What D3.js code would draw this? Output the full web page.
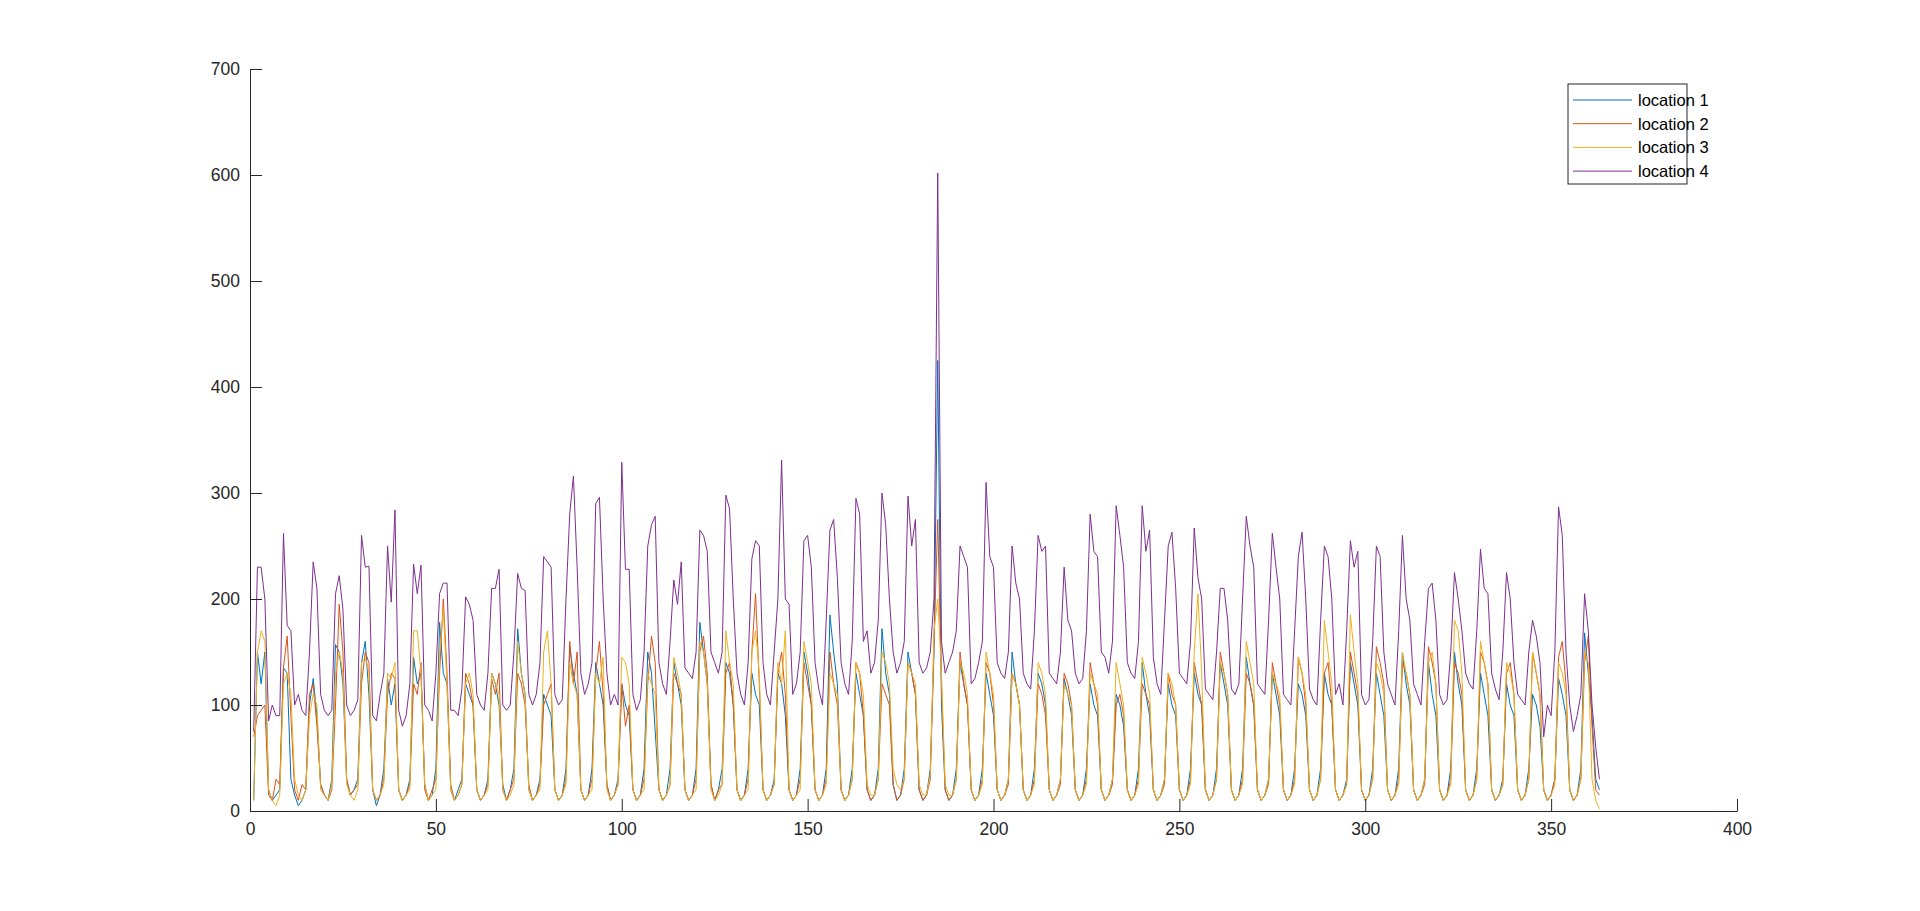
<!DOCTYPE html>
<html><head><meta charset="utf-8">
<script src="https://cdn.jsdelivr.net/npm/d3@7"></script>
<style>body{margin:0;background:#fff}svg{display:block}</style>
</head><body>
<script>
const seriesNames = ["location 1","location 2","location 3","location 4"];
const xTicks = [0,50,100,150,200,250,300,350,400];
const yTicks = [0,100,200,300,400,500,600,700];
const loc1 = [
10,150,120,150,20,10,15, 20,135,130,30,15,5,10, 20,100,125,90,25,15,10, 30,157,150,120,30,15,20,
30,140,160,110,20,5,15, 40,125,100,120,20,10,15, 30,145,120,130,25,10,15, 40,178,130,120,20,10,20,
30,120,110,100,20,10,15, 30,130,120,100,25,10,20, 40,172,130,110,20,10,15, 30,110,100,90,20,10,15,
40,155,130,110,20,10,15, 40,140,120,100,25,10,15, 30,120,100,90,20,10,15, 40,150,130,75,20,10,15,
40,140,120,100,20,10,15, 40,178,150,120,25,10,20, 40,140,130,100,20,10,15, 40,130,110,100,20,10,15,
30,130,120,90,20,10,15, 40,150,130,100,20,10,15, 40,185,150,120,20,10,15, 40,130,110,90,20,10,15,
40,172,130,110,25,10,15, 40,150,130,110,20,10,15, 40,150,425,100,20,10,15, 40,140,120,100,20,10,15,
40,130,110,90,20,10,15, 30,150,120,100,20,10,15, 40,130,120,100,20,10,15, 30,125,110,90,20,10,15,
40,120,100,90,20,10,15, 30,110,100,80,20,10,15, 40,140,110,90,20,10,15, 30,120,100,90,20,10,15,
40,130,110,100,20,10,15, 40,140,120,100,20,10,15, 40,145,120,100,20,10,15, 30,130,110,90,20,10,15,
40,120,110,90,20,10,15, 40,130,110,100,20,10,15, 30,140,120,100,20,10,15, 40,130,110,90,20,10,15,
40,150,120,100,20,10,15, 30,140,110,90,20,10,15, 40,150,120,100,20,10,15, 40,130,110,90,20,10,15,
30,120,100,90,20,10,15, 40,110,100,80,20,10,15, 30,125,110,90,20,10,15, 40,168,130,90,30,20];
const loc2 = [
70,90,95,100,15,10,30, 25,135,165,90,20,10,25, 20,110,120,80,25,15,10, 20,100,195,150,30,15,20,
25,120,150,140,20,10,15, 30,110,130,125,20,10,15, 25,120,110,140,20,10,20, 30,130,200,130,25,10,15,
25,130,120,100,20,10,15, 25,125,110,130,20,10,20, 30,130,120,100,25,10,15, 25,100,110,120,20,10,15,
30,160,120,150,20,10,15, 30,130,160,110,25,10,15, 25,120,80,100,20,10,15, 30,120,165,140,20,10,15,
25,130,120,110,20,10,15, 30,150,165,130,25,10,20, 25,130,140,100,20,10,15, 30,150,205,120,20,10,15,
25,130,150,110,20,10,15, 30,140,120,100,20,10,15, 30,150,120,100,20,10,15, 30,140,130,90,20,10,15,
30,120,110,100,25,10,15, 30,140,130,110,20,10,15, 30,160,275,120,20,10,15, 30,150,120,100,20,10,15,
30,140,130,100,20,10,15, 25,130,120,100,20,10,15, 30,120,110,90,20,10,15, 25,130,120,100,20,10,15,
30,140,120,100,20,10,15, 25,100,110,90,20,10,15, 30,120,110,100,20,10,15, 25,130,110,100,20,10,15,
30,140,120,100,20,10,15, 30,150,130,110,20,10,15, 30,130,120,100,20,10,15, 25,140,120,100,20,10,15,
30,145,130,100,20,10,15, 30,130,140,100,20,10,15, 25,150,130,110,20,10,15, 30,155,140,120,20,10,15,
30,140,130,110,20,10,15, 25,155,140,120,20,10,15, 30,140,130,110,20,10,15, 30,150,140,120,20,10,15,
25,130,140,110,20,10,15, 30,150,130,110,20,10,15, 30,145,160,120,20,10,15, 30,140,165,80,20,15];
const loc3 = [
10,150,170,160,20,10,5, 15,120,130,110,30,15,10, 20,90,110,100,20,15,10, 25,130,150,130,25,15,10,
20,140,145,130,20,10,15, 25,130,125,140,20,10,15, 20,170,170,130,25,10,15, 20,150,190,120,20,10,15,
25,120,130,110,20,10,15, 20,130,120,110,20,10,15, 25,160,130,110,20,10,15, 20,150,170,120,20,10,15,
25,140,120,110,20,10,15, 20,130,120,145,20,10,15, 25,145,140,120,20,10,15, 20,130,120,110,20,10,15,
25,145,130,110,20,10,15, 20,160,150,120,20,10,15, 25,170,140,120,20,10,15, 20,150,170,130,20,10,15,
25,140,120,170,20,10,15, 20,160,140,120,20,10,15, 25,130,120,110,20,10,15, 30,140,130,110,25,15,15,
30,150,140,120,40,25,20, 30,140,130,120,25,15,15, 35,170,200,130,25,15,15, 30,140,130,110,20,10,15,
25,150,130,110,20,10,15, 30,130,120,100,20,10,15, 25,140,130,110,20,10,15, 30,120,110,100,20,10,15,
25,130,120,110,20,10,15, 30,140,120,100,20,10,15, 25,145,130,110,20,10,15, 30,130,120,100,20,10,15,
25,150,205,130,20,10,15, 30,140,130,110,20,10,15, 25,160,140,120,20,10,15, 30,130,120,110,20,10,15,
25,145,130,110,20,10,15, 30,180,150,120,20,10,15, 25,185,150,120,20,10,15, 30,140,130,110,20,10,15,
25,150,130,110,20,10,15, 30,140,150,120,20,10,15, 25,180,170,130,20,10,15, 30,160,140,120,20,10,15,
25,140,130,110,20,10,15, 30,150,130,110,20,10,15, 25,140,130,110,20,10,15, 30,150,140,30,10,2];
const loc4 = [
75,230,230,200,85,100,90, 90,262,175,170,100,110,95, 90,150,235,210,110,95,90, 95,205,222,190,100,90,95,
105,260,230,231,90,85,110, 130,250,197,284,95,80,90, 120,233,205,232,100,95,85, 130,205,215,215,95,95,90,
115,202,195,180,110,100,95, 130,210,210,228,100,95,100, 150,224,210,208,110,100,110, 140,240,235,230,110,100,105,
200,280,316,230,130,110,120, 140,290,296,200,130,100,110, 100,329,228,228,110,95,105, 150,250,270,278,140,120,110,
160,218,195,235,135,130,125, 150,265,260,245,150,140,130, 150,298,285,200,130,110,100, 140,238,255,250,140,110,100,
150,200,331,200,195,110,120, 150,255,260,230,140,115,100, 180,265,275,220,140,120,110, 160,295,280,160,170,130,140,
180,300,270,200,150,130,140, 160,297,250,275,140,130,135, 150,200,602,160,130,140,150, 170,250,240,230,120,125,140,
160,310,240,230,140,130,125, 150,250,215,200,130,120,115, 170,260,245,250,130,125,120, 150,230,180,170,130,120,125,
170,280,245,240,150,145,130, 160,288,260,230,140,130,125, 160,288,245,265,145,120,110, 180,250,263,210,130,125,120,
160,267,220,200,115,110,105, 150,210,210,180,115,110,120, 200,278,250,230,120,115,110, 180,262,230,200,110,105,100,
170,240,263,200,115,105,100, 180,250,240,200,110,120,100, 170,255,230,245,110,100,105, 160,250,240,150,120,110,100,
170,260,200,180,120,110,100, 160,210,215,180,110,100,105, 150,225,200,170,130,120,115, 170,247,210,205,130,115,105,
150,225,200,140,110,105,100, 150,180,165,140,70,100,90, 150,287,260,150,100,75,90, 110,205,170,100,60,30];
const allSeries = [loc1, loc2, loc3, loc4];
const colors = ["#0072BD","#D95319","#EDB120","#7E2F8E"];

const W=1920,H=911, L=250, R=1737, T=69, B=811;
const svg=d3.select("body").append("svg").attr("width",W).attr("height",H);
const x=d3.scaleLinear().domain([0,400]).range([L,R]);
const y=d3.scaleLinear().domain([0,700]).range([B,T]);
const font="'Liberation Sans', Arial, Helvetica, sans-serif";

const line=d3.line().x((d,i)=>x(i+1)).y(d=>y(d));
allSeries.forEach((s,k)=>{
  svg.append("path").datum(s).attr("d",line).attr("fill","none")
    .attr("stroke",colors[k]).attr("stroke-width",1);
});

const xa=svg.append("g").attr("transform",`translate(0,${B})`)
  .call(d3.axisBottom(x).tickValues(xTicks).tickSizeInner(-12).tickSizeOuter(0).tickPadding(8));
const ya=svg.append("g").attr("transform",`translate(${L},0)`)
  .call(d3.axisLeft(y).tickValues(yTicks).tickSizeInner(-12).tickSizeOuter(0).tickPadding(10));
[xa,ya].forEach(a=>{
  a.selectAll("path,line").attr("stroke","#262626").attr("stroke-width",1);
  a.selectAll("text").attr("fill","#262626").style("font-family",font).style("font-size","17.5px");
});
xa.selectAll("text").attr("dy","0.9em");

// legend
const lg=svg.append("g");
lg.append("rect").attr("x",1568).attr("y",84).attr("width",119).attr("height",100)
  .attr("fill","#fff").attr("stroke","#262626").attr("stroke-width",1);
seriesNames.forEach((n,k)=>{
  const yy=100+k*23.7;
  lg.append("line").attr("x1",1573).attr("x2",1632).attr("y1",yy).attr("y2",yy)
    .attr("stroke",colors[k]).attr("stroke-width",1);
  lg.append("text").attr("x",1638).attr("y",yy).attr("dy","0.36em")
    .style("font-family",font).style("font-size","16.5px").attr("fill","#000").text(n);
});
</script>
</body></html>
